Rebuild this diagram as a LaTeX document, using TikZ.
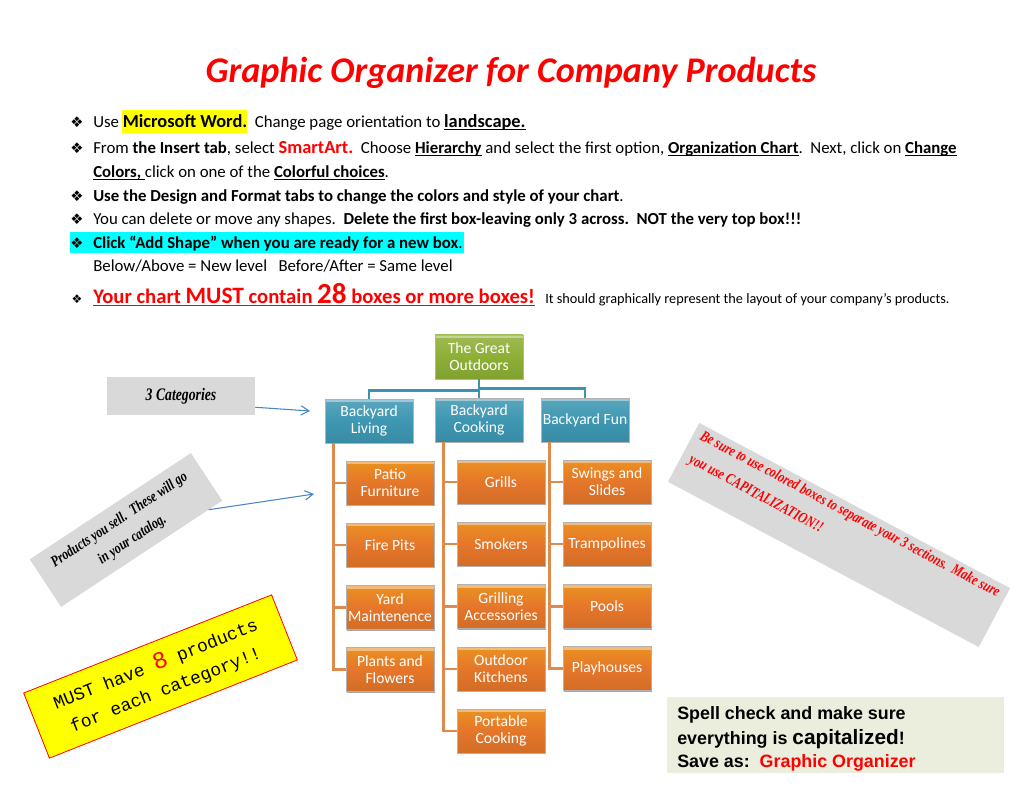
\documentclass[tikz,border=0pt]{standalone}
\usepackage{fontspec}
\setmainfont{Carlito}
\newfontfamily\dejafont{DejaVu Sans}
\newfontfamily\handfont[FakeStretch=0.78]{Liberation Serif}
\newfontfamily\typefont{Liberation Mono}
\newfontfamily\arialfont{Liberation Sans}
\usetikzlibrary{shadows,arrows.meta,calc}
\newsavebox{\ulbox}
\newcommand{\ulx}[1]{\sbox{\ulbox}{#1}\rlap{\rule[-1.7pt]{\wd\ulbox}{0.7pt}}\usebox{\ulbox}}
\newcommand{\fs}[1]{\fontsize{#1}{#1}\selectfont}
\definecolor{tealc}{HTML}{3E97B2}
\definecolor{orangec}{HTML}{E5762A}
\definecolor{greenc}{HTML}{8DAF35}
\definecolor{linkor}{HTML}{DE8A4C}
\definecolor{linkte}{HTML}{3C93AD}
\definecolor{arrowc}{HTML}{4A86C5}
\definecolor{spellc}{HTML}{EBEEDD}
\definecolor{hiyellow}{HTML}{FFFF00}
\definecolor{hicyan}{HTML}{00FFFF}
\definecolor{purered}{HTML}{FF0000}
\definecolor{notegray}{HTML}{D9D9D9}
\tikzset{
  line/.style={anchor=base west,inner sep=0pt,font=\fs{12.6}},
  bul/.style={anchor=base,inner sep=0pt,font=\dejafont\fs{11}},
  glossy/.style={minimum width=66pt,minimum height=33pt,inner sep=0pt,align=center,
    text=white,font=\fontsize{11.7}{12.9}\selectfont,draw=black!30,line width=0.7pt,
    general shadow={fill=black!35,shadow xshift=1pt,shadow yshift=-1pt},
    path picture={\fill[white,opacity=0.4] (path picture bounding box.north west) rectangle ([yshift=-2.4pt]path picture bounding box.north east);}},
  rootbox/.style={glossy,top color=greenc!85!white,bottom color=greenc!92!black,middle color=greenc},
  catbox/.style={glossy,top color=tealc!85!white,bottom color=tealc!92!black,middle color=tealc},
  prodbox/.style={glossy,top color=orangec!80!yellow,bottom color=orangec!92!black,middle color=orangec},
  tealink/.style={draw=linkte,line width=2.2pt},
  orlink/.style={draw=linkor,line width=2.2pt},
  note/.style={fill=notegray,inner sep=0pt,align=center},
  noteline/.style={-{Straight Barb[length=6pt,width=7pt]},draw=arrowc,line width=0.8pt},
  handtext/.style={font=\handfont\itshape\bfseries\fs{11.6}},
}
\begin{document}
\begin{tikzpicture}[x=0.75pt,y=-0.75pt]
\useasboundingbox (0,0) rectangle (1024,791);
% highlights
\fill[hiyellow] (122,110) rectangle (247,133);
\fill[hicyan] (70,232) rectangle (464,253);
% title
\node[anchor=base,inner sep=0pt,text=purered,font=\fs{27.1}\bfseries\itshape] (title) at (511,83) {Graphic Organizer for Company Products};
% bullets
\foreach \n/\y in {a/128,b/154,c/202,d/225,e/249}{\node[bul] (bul\n) at (77,\y) {\symbol{"2756}};}
\node[bul,font=\dejafont\fs{9}] (bulf) at (77,304) {\symbol{"2756}};
% instructions
\node[line] (l1) at (93,128) {Use \textbf{\fs{13.8}Microsoft Word.}\ \ Change page orientation to \ulx{\textbf{\fs{13.8}landscape.}}};
\node[line] (l2) at (93,154) {From \textbf{the Insert tab}, select \textcolor{purered}{\textbf{\fs{13.8}SmartArt.}}\ \ Choose \ulx{\textbf{Hierarchy}} and select the first option, \ulx{\textbf{Organization Chart}}.\ \ Next, click on \ulx{\textbf{Change}}};
\node[line] (l3) at (93,178) {\ulx{\textbf{Colors, }}click on one of the \ulx{\textbf{Colorful choices}}.};
\node[line] (l4) at (93,202) {\textbf{Use the Design and Format tabs to change the colors and style of your chart}.};
\node[line] (l5) at (93,225) {You can delete or move any shapes.\ \ \textbf{Delete the first box-leaving only 3 across.\ \ NOT the very top box!!!}};
\node[line] (l6) at (93,249) {\textbf{Click “Add Shape” when you are ready for a new box}.};
\node[line] (l7) at (93,272) {Below/Above = New level\ \ \ Before/After = Same level};
\node[line,text=purered] (l8) at (93,304) {\ulx{\textbf{\fs{15.5}Your chart \fs{17.6}MUST\fs{15.5} contain \fs{21.8}28\fs{15.5} boxes or more boxes!}}};
\node[line,font=\fs{10.7}] (l9) at (545,304) {It should graphically represent the layout of your company’s products.};
% tree
\node[rootbox] (root) at (479,357) {The Great\\Outdoors};
\node[catbox] (liv) at (369,421) {Backyard\\Living};
\node[catbox] (coo) at (479,420) {Backyard\\Cooking};
\node[catbox] (fun) at (585,420) {Backyard Fun};
\draw[tealink] (root.south) -- ++(0,11) -| (liv.north);
\draw[tealink] (root.south) -- ++(0,9) -| (fun.north);
\draw[tealink] (root.south) -- (coo.north);
\foreach \p/\x/\y/\t in {
 pa/390/483/{Patio\\Furniture},
 fi/390/545/{Fire Pits},
 ya/390/607.5/{Yard\\Maintenence},
 pl/390/669.5/{Plants and\\Flowers},
 gr/501/482/{Grills},
 sm/501/544/{Smokers},
 ga/501/606.5/{Grilling\\Accessories},
 ou/501/669/{Outdoor\\Kitchens},
 po/501/731/{Portable\\Cooking},
 sw/607/482/{Swings and\\Slides},
 tr/607/544/{Trampolines},
 pu/607/606.5/{Pools},
 ph/607/668.5/{Playhouses}}{
 \node[prodbox] (\p) at (\x,\y) {\t};
}
\foreach \c/\list in {liv/{pa,fi,ya,pl},coo/{gr,sm,ga,ou,po},fun/{sw,tr,pu,ph}}{
  \foreach \p in \list {\draw[orlink] ($(\c.south west)+(9,0)$) |- (\p.west);}
}
% notes
\node[note,minimum width=111pt,minimum height=28.5pt,font=\handfont\itshape\bfseries\fs{13.2}] (cat) at (181,396) {\raisebox{2pt}{3 Categories}};
\coordinate (catend) at (310,411);
\draw[noteline] ($(cat.south east)+(0,-8)$) -- (catend);
\node[note,rotate=33.4,minimum width=144.75pt,minimum height=42.75pt,handtext] (prod) at (126,530) {Products you sell.\ \ These will go\\[6pt]in your catalog.};
\coordinate (prodend) at (314,494);
\draw[noteline] ($(prod.south east)+(-14,9)$) -- (prodend);
\node[note,rotate=-28,minimum width=264pt,minimum height=50pt] (be) at (839,535) {};
\node[anchor=base west,inner sep=0pt,rotate=-28,text=purered,handtext] (beone) at (699,439) {Be sure to use colored boxes to separate your 3 sections.\ \ Make sure};
\node[anchor=base west,inner sep=0pt,rotate=-28,text=purered,handtext] (betwo) at (688,462.5) {you use CAPITALIZATION!!};
\node[rotate=21.6,minimum width=200pt,minimum height=52.5pt,inner sep=0pt,fill=hiyellow,draw=purered,line width=0.6pt,align=center,font=\typefont\fs{13.4}] (must) at (160.5,676.5) {MUST have {\color{purered}\fs{18}8} products\\[7pt]for each category!!};
% spell box
\begin{scope}
\clip (667,697) rectangle (1004,773);
\fill[spellc] (667,697) rectangle (1004,773);
\node[anchor=base west,inner sep=0pt,font=\arialfont\bfseries\fs{13.4}] (s1) at (677,719.5) {Spell check and make sure};
\node[anchor=base west,inner sep=0pt,font=\arialfont\bfseries\fs{13.4}] (s2) at (677,744.5) {everything is {\fs{15.6}capitalized}!};
\node[anchor=base west,inner sep=0pt,font=\arialfont\bfseries\fs{13.4}] (s3) at (677,767) {Save as:\ \ \textcolor{purered}{Graphic Organizer}};
\end{scope}
\end{tikzpicture}
\end{document}
